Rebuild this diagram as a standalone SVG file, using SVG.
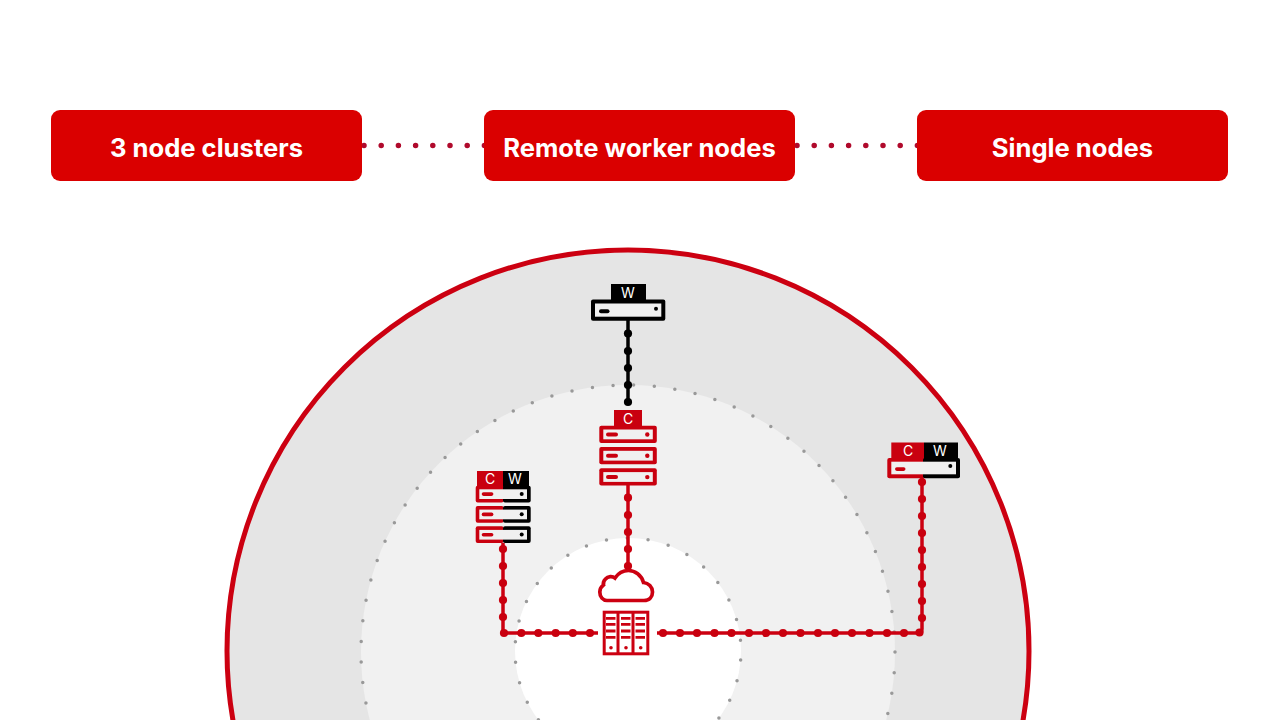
<svg xmlns="http://www.w3.org/2000/svg" width="1280" height="720" viewBox="0 0 1280 720">
<style>
.lbl{font-family:"Inter","Liberation Sans",sans-serif;font-weight:700;font-size:25.600px;fill:#fff;text-anchor:middle}
.box{fill:#da0000}
.tag{font-family:"Inter","Liberation Sans",sans-serif;font-size:14px;fill:#fff;text-anchor:middle}
.rd{fill:#c9000f}.bk{fill:#000}
.in{fill:#f0f0f0}
.rl{stroke:#cc0011;stroke-width:3.500;fill:none}
.bl{stroke:#000;stroke-width:3.500;fill:none}
.top{stroke:#b00a2c;stroke-width:5.500;stroke-linecap:round;stroke-dasharray:0 17.200;fill:none}
.zd{fill:none;stroke:#999;stroke-width:3.500;stroke-linecap:round}
</style>
<rect width="1280" height="720" fill="#fff"/>
<g id="zones">
<circle cx="628" cy="651" r="401" fill="#e5e5e5" stroke="#cc0011" stroke-width="5"/>
<circle cx="628" cy="652" r="267" fill="#f1f1f1"/>
<circle cx="628" cy="652" r="267" class="zd" stroke-dasharray="0 20.711"/>
<circle cx="628" cy="651" r="113" fill="#fff"/>
<circle cx="628" cy="651" r="113" class="zd" stroke-dasharray="0 20.882" stroke-dashoffset="11.700"/>
</g>
<g id="connectors">
<path class="top" d="M364 145.500H487"/>
<path class="top" d="M797 145.500H918"/>
<path class="bl" d="M628 320V402"/>
<g class="bk"><circle cx="628" cy="333.500" r="4.100"/><circle cx="628" cy="351" r="4.100"/><circle cx="628" cy="368" r="4.100"/><circle cx="628" cy="385" r="4.100"/><circle cx="628" cy="402" r="4.100"/></g>
<path class="rl" d="M628 485V572"/>
<path class="rl" d="M503 543V633H598"/>
<path class="rl" d="M657 633H918Q922 633 922 629V478"/>
<g class="rd">
<circle cx="628" cy="497.700" r="4.100"/><circle cx="628" cy="515" r="4.100"/><circle cx="628" cy="532" r="4.100"/><circle cx="628" cy="549" r="4.100"/><circle cx="628" cy="566" r="4.100"/>
<circle cx="503" cy="549" r="4.100"/><circle cx="503" cy="566" r="4.100"/><circle cx="503" cy="583" r="4.100"/><circle cx="503" cy="600" r="4.100"/><circle cx="503" cy="617" r="4.100"/>
<circle cx="504" cy="633" r="4.100"/><circle cx="521.300" cy="633" r="4.100"/><circle cx="538.300" cy="633" r="4.100"/><circle cx="555.700" cy="633" r="4.100"/><circle cx="572.800" cy="633" r="4.100"/><circle cx="590" cy="633" r="4.100"/>
<circle cx="663" cy="633" r="4.100"/><circle cx="680" cy="633" r="4.100"/><circle cx="697" cy="633" r="4.100"/><circle cx="714.500" cy="633" r="4.100"/><circle cx="731.500" cy="633" r="4.100"/><circle cx="749" cy="633" r="4.100"/><circle cx="766" cy="633" r="4.100"/><circle cx="783" cy="633" r="4.100"/><circle cx="800.500" cy="633" r="4.100"/><circle cx="818" cy="633" r="4.100"/><circle cx="835" cy="633" r="4.100"/><circle cx="852" cy="633" r="4.100"/><circle cx="869.500" cy="633" r="4.100"/><circle cx="887" cy="633" r="4.100"/><circle cx="904" cy="633" r="4.100"/><circle cx="919.500" cy="632.500" r="4.100"/>
<circle cx="922" cy="482" r="4.100"/><circle cx="922" cy="499" r="4.100"/><circle cx="922" cy="516" r="4.100"/><circle cx="922" cy="533" r="4.100"/><circle cx="922" cy="550" r="4.100"/><circle cx="922" cy="567" r="4.100"/><circle cx="922" cy="584" r="4.100"/><circle cx="922" cy="601" r="4.100"/><circle cx="922" cy="618" r="4.100"/>
</g>
</g>
<g id="node-3-node-clusters"><rect class="box" x="51" y="110" width="311" height="71" rx="9"/><text class="lbl" x="206.500" y="156.500">3 node clusters</text></g>
<g id="node-remote-worker-nodes"><rect class="box" x="484" y="110" width="311" height="71" rx="9"/><text class="lbl" x="639.500" y="156.500">Remote worker nodes</text></g>
<g id="node-single-nodes"><rect class="box" x="917" y="110" width="311" height="71" rx="9"/><text class="lbl" x="1072.500" y="156.500">Single nodes</text></g>
<g id="node-worker">
<rect class="bk" x="611" y="284" width="35" height="17"/>
<text class="tag" x="628" y="298">W</text>
<rect class="bk" x="591" y="299.500" width="74.300" height="21.200" rx="2"/>
<rect class="in" x="595" y="303.500" width="66.300" height="13.200"/>
<rect class="bk" x="599" y="309.300" width="10.500" height="4" rx="2"/>
<circle class="bk" cx="656" cy="308.700" r="2"/>
</g>
<g id="node-control">
<rect class="rd" x="614" y="410" width="28" height="17"/>
<text class="tag" x="628" y="424">C</text>
<g id="c-rows">
<rect class="rd" x="599.300" y="425.700" width="57.500" height="17.300" rx="2"/><rect class="in" x="603.300" y="429.500" width="49.500" height="9.800"/><rect class="rd" x="606" y="432.500" width="12" height="4" rx="2"/><circle class="rd" cx="647.300" cy="434.500" r="2.200"/>
<rect class="rd" x="599.300" y="447" width="57.500" height="17.300" rx="2"/><rect class="in" x="603.300" y="450.800" width="49.500" height="9.800"/><rect class="rd" x="606" y="453.800" width="12" height="4" rx="2"/><circle class="rd" cx="647.300" cy="455.800" r="2.200"/>
<rect class="rd" x="599.300" y="468.300" width="57.500" height="17.300" rx="2"/><rect class="in" x="603.300" y="472.100" width="49.500" height="9.800"/><rect class="rd" x="606" y="475.100" width="12" height="4" rx="2"/><circle class="rd" cx="647.300" cy="477.100" r="2.200"/>
</g>
</g>
<g id="node-cluster">
<rect class="rd" x="477" y="471" width="26" height="17"/><rect class="bk" x="503" y="471" width="26" height="17"/>
<text class="tag" x="490" y="484">C</text><text class="tag" x="515" y="484">W</text>
<rect class="rd" x="475.700" y="485.700" width="28" height="16.800" rx="2"/><rect class="bk" x="503" y="485.700" width="27.700" height="16.800" rx="2"/><rect class="in" x="479.300" y="489.300" width="47.700" height="9.700"/><rect class="rd" x="481.700" y="492.300" width="11.700" height="3.600" rx="1.800"/><circle class="bk" cx="521.700" cy="494" r="2"/>
<rect class="rd" x="475.700" y="506" width="28" height="16.800" rx="2"/><rect class="bk" x="503" y="506" width="27.700" height="16.800" rx="2"/><rect class="in" x="479.300" y="509.600" width="47.700" height="9.700"/><rect class="rd" x="481.700" y="512.600" width="11.700" height="3.600" rx="1.800"/><circle class="bk" cx="521.700" cy="514.300" r="2"/>
<rect class="rd" x="475.700" y="526.300" width="28" height="16.800" rx="2"/><rect class="bk" x="503" y="526.300" width="27.700" height="16.800" rx="2"/><rect class="in" x="479.300" y="529.900" width="47.700" height="9.700"/><rect class="rd" x="481.700" y="532.900" width="11.700" height="3.600" rx="1.800"/><circle class="bk" cx="521.700" cy="534.600" r="2"/>
</g>
<g id="node-single">
<rect class="rd" x="891.300" y="442.500" width="32.700" height="17.500"/><rect class="bk" x="924" y="442.500" width="34" height="17.500"/>
<text class="tag" x="908" y="455.500">C</text><text class="tag" x="940" y="455.500">W</text>
<rect class="rd" x="887.300" y="458" width="37" height="20.300" rx="2"/><rect class="bk" x="923" y="458" width="37" height="20.300" rx="2"/><rect class="in" x="891.300" y="461.700" width="64.700" height="12.600"/><rect class="rd" x="895" y="467.300" width="10.500" height="3.600" rx="1.800"/><circle class="bk" cx="950.300" cy="466" r="2"/>
</g>
<g id="node-cloud">
<path d="M607 600.500H644C649.500 600.500 652.500 596.500 652.500 592C652.500 587 648.500 583 643.500 582.500C641.500 575 635 570.500 628.500 570.500C623 570.500 618 573.500 615 578C612.500 576 608 576 605.500 579C603.500 581 603 583 603.500 585C600.500 587 599.800 589.500 599.800 592C599.800 597 603 600.500 607 600.500Z" fill="#fff" stroke="#cc0011" stroke-width="3.700"/>
</g>
<g id="node-datacenter">
<rect x="604.200" y="612.200" width="43.600" height="41.600" fill="#fff" stroke="#cc0011" stroke-width="3"/>
<path d="M618 612V654M633 612V654" stroke="#cc0011" stroke-width="3"/>
<path d="M606 618.300H615.500M606 624.300H615.500M606 631H615.500M606 637.300H615.500M621 618.300H630.500M621 624.300H630.500M621 631H630.500M621 637.300H630.500M635.500 618.300H645M635.500 624.300H645M635.500 631H645M635.500 637.300H645" stroke="#cc0011" stroke-width="2.800"/>
<circle class="rd" cx="611" cy="647.700" r="1.800"/><circle class="rd" cx="626" cy="647.700" r="1.800"/><circle class="rd" cx="640.700" cy="647.700" r="1.800"/>
</g>
</svg>
